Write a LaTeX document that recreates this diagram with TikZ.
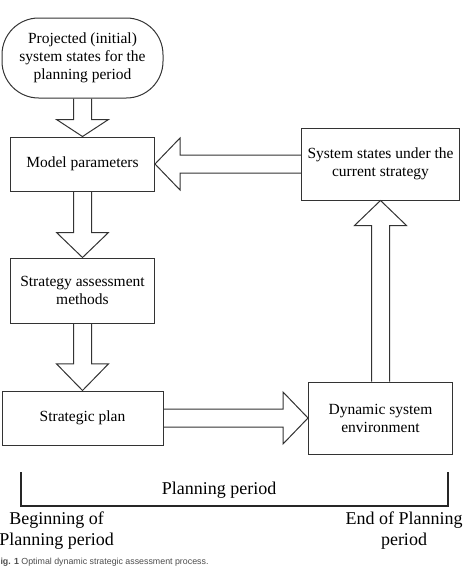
\documentclass[tikz,border=0pt]{standalone}
\usepackage{fontspec}
\setmainfont{Liberation Serif}
\newfontfamily\capfont{Liberation Sans}
\usetikzlibrary{calc,positioning}

\tikzset{
  fat w/.store in=\fatw, fat h/.store in=\fath, fat k/.store in=\fatk,
  fat w=5.4pt, fat h=15.6pt, fat k=15pt,
  fat/.style={to path={
    let \p3=($(\tikztotarget)!\fatk!(\tikztostart)$) in
    ($(\tikztostart)!\fatw!90:(\tikztotarget)$) --
    ($(\p3)!\fatw!90:(\tikztotarget)$) --
    ($(\p3)!\fath!90:(\tikztotarget)$) -- (\tikztotarget) --
    ($(\p3)!\fath!-90:(\tikztotarget)$) --
    ($(\p3)!\fatw!-90:(\tikztotarget)$) --
    ($(\tikztostart)!\fatw!-90:(\tikztotarget)$)}}
}

\begin{document}
\begin{tikzpicture}[x=0.6pt,y=-0.6pt,line width=0.6pt,draw=black!80,
  box/.style={draw,inner sep=0pt,align=center,font=\fontsize{9.3}{10.8}\selectfont},
  lab/.style={inner sep=0pt,align=center,font=\fontsize{10.8}{12.6}\selectfont}]
  \useasboundingbox (0,0) rectangle (474,568);
  \node[box,rounded corners=22pt,minimum width=96.6pt,minimum height=48pt] (init) at (82.5,58)
    {Projected (initial)\\system states for the\\planning period};
  \node[box,minimum width=86.4pt,minimum height=32.4pt] (mp) at (82.5,164) {Model parameters};
  \node[box,minimum width=86.4pt,minimum height=39pt] (sa) at (82.5,290.5) {Strategy assessment\\methods};
  \node[box,minimum width=96.6pt,minimum height=32.4pt] (sp) at (82.5,418) {Strategic plan};
  \node[box,minimum width=94.8pt,minimum height=43.2pt] (ss) at (380.5,164) {System states under the\\current strategy};
  \node[box,minimum width=86.4pt,minimum height=43.2pt] (dse) at (380.5,418) {Dynamic system\\environment};
  % block arrows
  \draw (init.south) to[fat,fat k=10.2pt] (mp.north);
  \draw (mp.south) to[fat] (sa.north);
  \draw (sa.south) to[fat,fat k=16pt] (sp.north);
  \draw (sp.east) to[fat] (dse.west);
  \draw (dse.north) to[fat] (ss.south);
  \draw (ss.west) to[fat] (mp.east);
  % planning period bracket
  \coordinate (pl) at (21,472);
  \coordinate (bl) at (21,506);
  \coordinate (br) at (448,506);
  \coordinate (pr) at (448,472);
  \draw[line width=1.1pt,black!85] (pl) -- (bl) -- (br) -- (pr);
  \node[lab] (pp) at (219,490) {Planning period};
  \node[lab] (beg) at (56.5,531) {Beginning of\\Planning period};
  \node[lab] (end) at (404,531) {End of Planning\\period};
  \node[anchor=west,inner sep=0pt,text=black!70,font=\capfont\fontsize{5.3}{6}\selectfont] (cap) at (0,562)
    {\textbf{ig. 1} Optimal dynamic strategic assessment process.};
\end{tikzpicture}
\end{document}
